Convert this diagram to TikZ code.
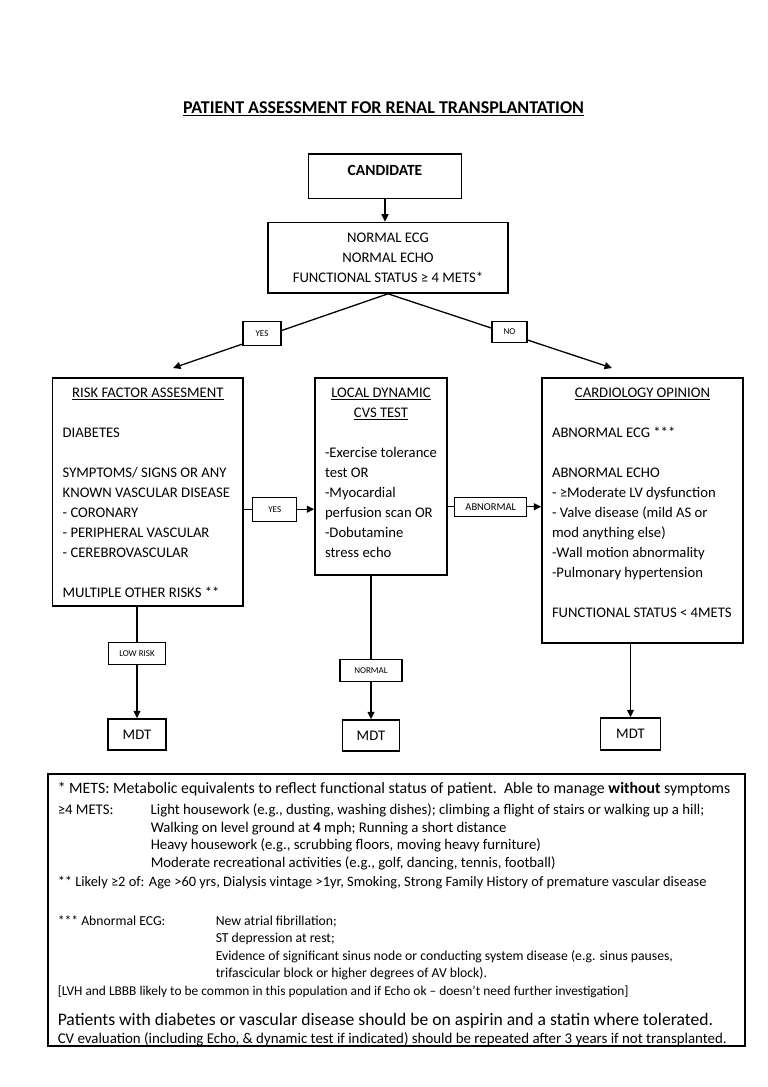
\documentclass[tikz,border=0pt]{standalone}
\usepackage{fontspec}
\setmainfont{Carlito}
\usetikzlibrary{arrows.meta}

\newcommand{\boxfont}{\fontsize{14.67}{20}\selectfont}
\newcommand{\tagfont}{\fontsize{9}{10}\selectfont}
\newcommand{\notefont}{\fontsize{13.3}{17.5}\selectfont}
\newcommand{\notesize}[1]{\fontsize{#1}{17.5}\selectfont}
\newcommand{\ulbox}[1]{\setbox0=\hbox{#1}\rlap{\rule[-0.15em]{\wd0}{0.07em}}\box0}

\begin{document}
\begin{tikzpicture}[x=1pt, y=-1pt, >={Triangle[length=7.5pt,width=7pt]},
  every node/.style={font=\boxfont},
  box/.style={draw, line width=1.5pt, inner sep=0pt},
  tag/.style={draw, line width=1.2pt, fill=white, inner sep=0pt, font=\tagfont},
  link/.style={line width=1.3pt}]
\useasboundingbox (0,0) rectangle (768,1087);

\node[anchor=base] (title) at (383.5,113.7)
  {\fontsize{18}{20}\selectfont\bfseries\ulbox{PATIENT ASSESSMENT FOR RENAL TRANSPLANTATION}};

% flow boxes
\node[box, anchor=north, minimum width=153pt, text height=21.5pt, text depth=23.2pt] (candidate) at (385,153)
  {\fontsize{15.5}{20}\selectfont\bfseries CANDIDATE};
\node[box, anchor=north, text width=240pt, align=flush center, text height=20pt, text depth=50.6pt] (ecg) at (388,221.7)
  {NORMAL ECG\\ NORMAL ECHO\\ FUNCTIONAL STATUS ≥ 4 METS*};

\node[box, anchor=north, text width=170.3pt, inner xsep=10pt, align=flush left, text height=19.7pt, text depth=208.3pt] (risk) at (147.85,377)
  {\makebox[\linewidth]{\ulbox{RISK FACTOR ASSESMENT}}\\[20pt]
   DIABETES\\[20pt]
   SYMPTOMS/ SIGNS OR ANY\\
   KNOWN VASCULAR DISEASE\\
   - CORONARY\\
   - PERIPHERAL VASCULAR\\
   - CEREBROVASCULAR\\[20pt]
   MULTIPLE OTHER RISKS **};
\node[box, anchor=north, text width=112pt, inner xsep=10pt, align=flush left, text height=19.7pt, text depth=177.3pt] (cvs) at (381,377)
  {\makebox[\linewidth]{\ulbox{LOCAL DYNAMIC}}\\
   \makebox[\linewidth]{\ulbox{CVS TEST}}\\[20pt]
   -Exercise tolerance\\
   test OR\\
   -Myocardial\\
   perfusion scan OR\\
   -Dobutamine\\
   stress echo};
\node[box, anchor=north, text width=181pt, inner xsep=10pt, align=flush left, text height=19.7pt, text depth=245.3pt] (card) at (642.5,377)
  {\makebox[\linewidth]{\ulbox{CARDIOLOGY OPINION}}\\[20pt]
   ABNORMAL ECG ***\\[20pt]
   ABNORMAL ECHO\\
   - ≥Moderate LV dysfunction\\
   - Valve disease (mild AS or\\
   mod anything else)\\
   -Wall motion abnormality\\
   -Pulmonary hypertension\\[20pt]
   FUNCTIONAL STATUS < 4METS};

\node[box, minimum width=58pt, minimum height=31pt] (mdt1) at (137,734.5) {MDT};
\node[box, minimum width=57pt, minimum height=31pt] (mdt2) at (371,735.5) {MDT};
\node[box, minimum width=60pt, minimum height=32pt] (mdt3) at (630.5,734) {MDT};

\coordinate (riskin) at (173,368);
\coordinate (cardin) at (612,368);

% connectors
\draw[link,->] (candidate) -- (candidate |- ecg.north);
\draw[link,->] (ecg.south) -- node[tag, pos=0.586, yshift=4pt, minimum width=38pt, minimum height=24pt] (yesL) {YES} (riskin);
\draw[link,->] (ecg.south) -- node[tag, pos=0.542, yshift=2.4pt, minimum width=35pt, minimum height=21pt] (noR) {NO} (cardin);
\draw[link,->] ([yshift=-17.5pt]risk.east) -- node[tag, pos=0.44, minimum width=44pt, minimum height=24pt] (yesM) {YES} ([yshift=-17.5pt]risk.east -| cvs.west);
\draw[link,->] ([yshift=-30.5pt]cvs.east) -- node[tag, pos=0.46, minimum width=72pt, minimum height=19pt, font=\fontsize{10.5}{11}\selectfont] (abn) {ABNORMAL} ([yshift=-30.5pt]cvs.east -| card.west);
\draw[link,->] (risk.south -| mdt1) -- node[tag, pos=0.42, minimum width=57pt, minimum height=22pt] (low) {LOW RISK} (mdt1);
\draw[link,->] (cvs.south -| mdt2) -- node[tag, pos=0.66, minimum width=62pt, minimum height=22pt] (norm) {NORMAL} (mdt2);
\draw[link,->] (card.south -| mdt3) -- (mdt3);

% footnotes
\node[box, anchor=north west, text width=677pt, inner xsep=10pt, align=flush left, text height=20pt, text depth=252pt, font=\notefont] (notes) at (47,773)
  {{\notesize{15.8}* METS: Metabolic equivalents to reflect functional status of patient.\ \ Able to manage \textbf{without} symptoms}\\[3.5pt]
   {\notesize{14.75}\makebox[93pt][l]{≥4 METS:}Light housework (e.g., dusting, washing dishes); climbing a flight of stairs or walking up a hill;\\
   \hspace*{93pt}Walking on level ground at \textbf{4} mph; Running a short distance\\
   \hspace*{93pt}Heavy housework (e.g., scrubbing floors, moving heavy furniture)\\
   \hspace*{93pt}Moderate recreational activities (e.g., golf, dancing, tennis, football)}\\[1.5pt]
   {\notesize{14.4}** Likely ≥2 of: Age >60 yrs, Dialysis vintage >1yr, Smoking, Strong Family History of premature vascular disease}\\[21.5pt]
   {\notesize{13.7}\makebox[158pt][l]{*** Abnormal ECG:}New atrial fibrillation;\\
   \hspace*{158pt}ST depression at rest;\\
   \hspace*{158pt}Evidence of significant sinus node or conducting system disease (e.g. sinus pauses,\\
   \hspace*{158pt}trifascicular block or higher degrees of AV block).}\\
   {\notesize{13.4}[LVH and LBBB likely to be common in this population and if Echo ok – doesn’t need further investigation]}\\[12.5pt]
   {\notesize{17.6}Patients with diabetes or vascular disease should be on aspirin and a statin where tolerated.}\\[0.5pt]
   {\notesize{14.9}CV evaluation (including Echo, \& dynamic test if indicated) should be repeated after 3 years if not transplanted.}};
\end{tikzpicture}
\end{document}
